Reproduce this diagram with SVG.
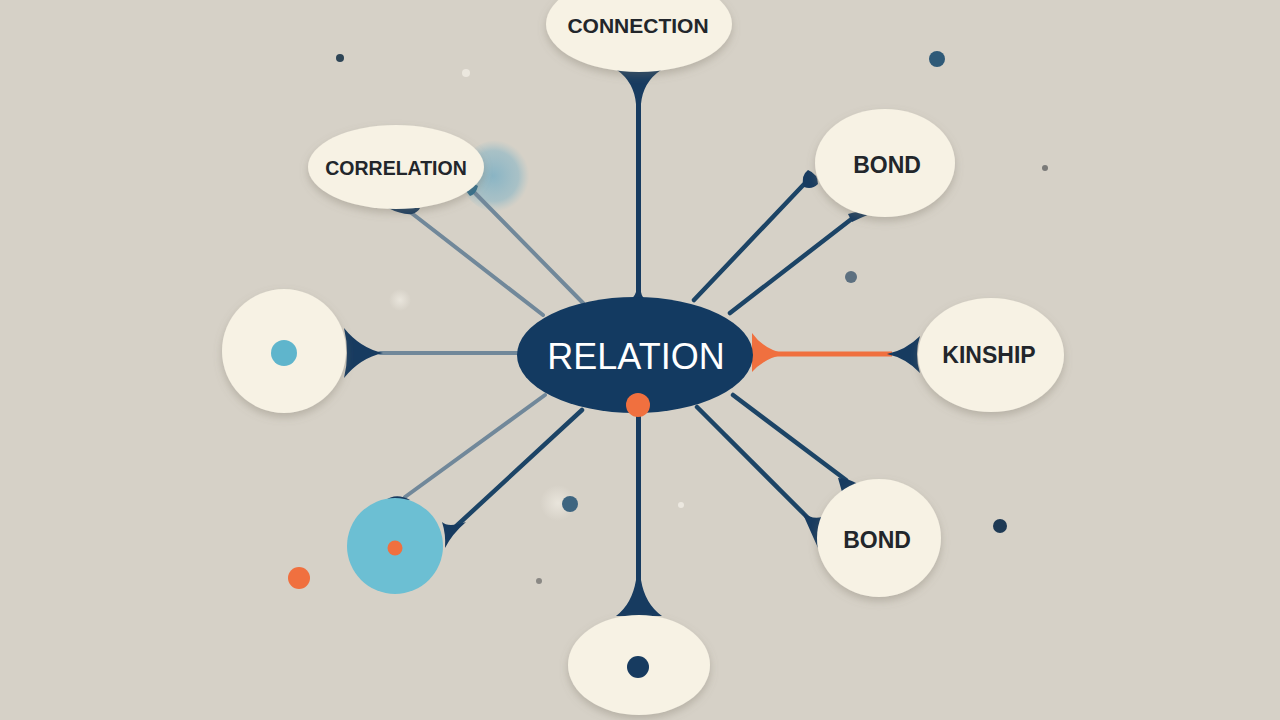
<svg xmlns="http://www.w3.org/2000/svg" width="1280" height="720" viewBox="0 0 1280 720">
<defs>
<style>
.cream{fill:#f7f2e4;filter:url(#sh)}
.lbl{font-family:"Liberation Sans",Arial,sans-serif;font-weight:bold;fill:#22262b;text-anchor:middle}
.navy{fill:#173b60}
.ln{stroke:#1c4466;stroke-width:4.5;stroke-linecap:round;fill:none}
.lg{stroke:#71889a;stroke-width:4;stroke-linecap:round;fill:none}
</style>
<filter id="sh" x="-20%" y="-20%" width="140%" height="150%">
<feDropShadow dx="0" dy="4" stdDeviation="4" flood-color="#7a7264" flood-opacity="0.35"/>
</filter>
<radialGradient id="fade" cx="0.45" cy="0.5" r="0.5">
<stop offset="0" stop-color="#86b3c4" stop-opacity="0.95"/>
<stop offset="0.7" stop-color="#95bac6" stop-opacity="0.7"/>
<stop offset="1" stop-color="#a6c2c8" stop-opacity="0"/>
</radialGradient>
<radialGradient id="halo" cx="0.5" cy="0.5" r="0.5">
<stop offset="0" stop-color="#ebe7de" stop-opacity="0.9"/>
<stop offset="1" stop-color="#ebe7de" stop-opacity="0"/>
</radialGradient>
</defs>
<rect width="1280" height="720" fill="#d6d1c7"/>

<g id="decor">
<circle cx="497" cy="176" r="36" fill="url(#fade)"/>
<circle cx="340" cy="58" r="4" fill="#2e4556"/>
<circle cx="466" cy="73" r="4" fill="#ebe7de"/>
<circle cx="937" cy="59" r="8" fill="#2f5a78"/>
<circle cx="1045" cy="168" r="3" fill="#7a7a78"/>
<circle cx="851" cy="277" r="6" fill="#5d7080"/>
<circle cx="400" cy="300" r="11" fill="url(#halo)"/>
<circle cx="558" cy="503" r="18" fill="url(#halo)"/>
<circle cx="570" cy="504" r="8" fill="#3e6580"/>
<circle cx="1000" cy="526" r="7" fill="#1f3a55"/>
<circle cx="539" cy="581" r="3" fill="#8a8884"/>
<circle cx="681" cy="505" r="3" fill="#ece8e0"/>
<circle cx="299" cy="578" r="11" fill="#f0703f"/>
</g>

<g id="connectors">
<!-- CONNECTION -->
<path class="navy" d="M617,70 Q634,82 636,104 L636,292 Q634,298 629,300 L647,300 Q642,298 641,292 L641,104 Q643,82 661,70 Z"/>
<!-- CORRELATION -->
<line class="lg" x1="405" y1="208" x2="543" y2="315"/>
<path class="navy" d="M388,208 Q402,215 412,214 Q418,212 420,208 Z"/>
<line class="lg" x1="472" y1="190" x2="583" y2="303"/>
<path fill="#2f6f8f" d="M462,186 Q470,180 478,186 Q476,194 470,196 Z"/>
<!-- BOND top -->
<line class="ln" x1="808" y1="180" x2="694" y2="300"/>
<path class="navy" d="M808,170 Q818,174 818,184 Q812,190 804,187 Q800,176 808,170 Z"/>
<line class="ln" x1="858" y1="214" x2="730" y2="313"/>
<path class="navy" d="M848,214 Q860,210 870,214 Q860,218 852,222 Z"/>
<!-- left circle -->
<line class="lg" x1="380" y1="353" x2="520" y2="353"/>
<path class="navy" d="M344,328 Q360,348 383,353 Q360,358 344,378 Q350,353 344,328 Z"/>
<!-- KINSHIP -->
<line x1="775" y1="354" x2="892" y2="354" stroke="#f0703f" stroke-width="5"/>
<path fill="#f0703f" d="M752,333 Q764,350 786,354 Q764,358 752,372 Z"/>
<path class="navy" d="M920,336 Q906,350 887,354 Q906,358 920,373 Q914,354 920,336 Z"/>
<!-- bottom-left blue circle -->
<line class="lg" x1="405" y1="497" x2="545" y2="395"/>
<path class="navy" d="M384,501 Q396,492 410,500 Z"/>
<line class="ln" x1="452" y1="530" x2="582" y2="410"/>
<path class="navy" d="M442,522 Q448,528 466,522 Q452,534 445,548 Q446,534 442,522 Z"/>
<!-- bottom -->
<path class="navy" d="M636,410 L641,410 L641,580 Q645,604 662,616 L616,616 Q632,604 636,580 Z"/>
<!-- BOND bottom -->
<line class="ln" x1="697" y1="407" x2="812" y2="522"/>
<path class="navy" d="M802,512 Q812,520 822,517 Q816,530 818,548 Q810,530 802,512 Z"/>
<line class="ln" x1="733" y1="395" x2="846" y2="480"/>
<path class="navy" d="M838,478 Q848,478 858,484 Q848,486 842,492 Z"/>
</g>

<g id="node-relation">
<ellipse cx="635" cy="355" rx="118" ry="58" fill="#133a61"/>
<text x="636" y="369" font-family="'Liberation Sans',Arial,sans-serif" font-size="36" fill="#ffffff" text-anchor="middle">RELATION</text>
<circle cx="638" cy="405" r="12" fill="#f0703f"/>
</g>

<g id="node-connection">
<ellipse class="cream" cx="639" cy="24" rx="93" ry="48"/>
<text class="lbl" x="638" y="33" font-size="21">CONNECTION</text>
</g>

<g id="node-correlation">
<ellipse class="cream" cx="396" cy="167" rx="88" ry="42"/>
<text class="lbl" x="396" y="175" font-size="19.5">CORRELATION</text>
</g>

<g id="node-bond-top">
<ellipse class="cream" cx="885" cy="163" rx="70" ry="54"/>
<text class="lbl" x="887" y="173" font-size="23">BOND</text>
</g>

<g id="node-kinship">
<ellipse class="cream" cx="991" cy="355" rx="73" ry="57"/>
<text class="lbl" x="989" y="363" font-size="23">KINSHIP</text>
</g>

<g id="node-left">
<circle class="cream" cx="284" cy="351" r="62"/>
<circle cx="284" cy="353" r="13" fill="#5fb5cc"/>
</g>

<g id="node-blue">
<circle cx="395" cy="546" r="48" fill="#6cbfd3"/>
<circle cx="395" cy="548" r="7.5" fill="#f0703f"/>
</g>

<g id="node-bottom">
<ellipse class="cream" cx="639" cy="665" rx="71" ry="50"/>
<circle cx="638" cy="667" r="11" fill="#173b60"/>
</g>

<g id="node-bond-bottom">
<ellipse class="cream" cx="879" cy="538" rx="62" ry="59"/>
<text class="lbl" x="877" y="548" font-size="23">BOND</text>
</g>
</svg>
